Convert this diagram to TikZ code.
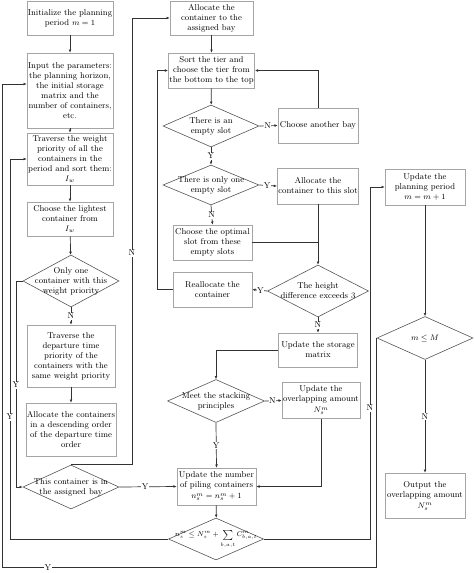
\documentclass[tikz,border=0pt]{standalone}
\usetikzlibrary{shapes.geometric,arrows.meta}
\definecolor{boxgray}{RGB}{165,165,165}
\definecolor{diagray}{RGB}{85,85,85}
\definecolor{linegray}{RGB}{50,50,50}
\newcommand\myfs{\fontsize{8.5}{10}\selectfont}
\newcommand\mysmfs{\fontsize{7.5}{9}\selectfont}
\tikzset{
 box/.style={draw=boxgray, line width=0.6pt, fill=white, inner sep=1pt, align=center, font=\myfs},
 dia/.style={draw=diagray, line width=0.6pt, diamond, inner sep=0pt},
 dtext/.style={align=center, font=\myfs, inner sep=0pt},
 conn/.style={draw=linegray, line width=0.7pt},
 arr/.style={conn, -{Latex[length=3.2pt,width=2.8pt]}},
 lab/.style={fill=white, inner sep=0.6pt, font=\myfs},
}
\begin{document}
\begin{tikzpicture}[x=1pt,y=-1pt]
\useasboundingbox (0,0) rectangle (474,573);
% left column
\node[box, minimum width=86pt, minimum height=34pt] (b1) at (70,18) {Initialize the planning\\period $m=1$};
\node[box, minimum width=86pt, minimum height=75pt] (b2) at (70,90.5) {Input the parameters:\\the planning horizon,\\the initial storage\\matrix and the\\number of containers,\\etc.};
\node[box, minimum width=86pt, minimum height=52pt] (b3) at (70,159) {Traverse the weight\\priority of all the\\containers in the\\period and sort them:\\$I_w$};
\node[box, minimum width=86pt, minimum height=34pt] (b4) at (70,219) {Choose the lightest\\container from\\$I_w$};
\node[dia, minimum width=96pt, minimum height=52pt, label={[dtext]center:{Only one\\container with this\\weight priority}}] (d1) at (71,281) {};
\node[box, minimum width=88pt, minimum height=62pt] (b5) at (71,356) {Traverse the\\departure time\\priority of the\\containers with the\\same weight priority};
\node[box, minimum width=88pt, minimum height=53pt] (b6) at (71,429.5) {Allocate the containers\\in a descending order\\of the departure time\\order};
\node[dia, minimum width=96pt, minimum height=44pt, label={[dtext]center:{This container is in\\the assigned bay}}] (d2) at (71,487) {};
% middle column
\node[box, minimum width=83pt, minimum height=34pt] (c1) at (211.5,18) {Allocate the\\container to the\\assigned bay};
\node[box, minimum width=83pt, minimum height=35pt] (c2) at (211.5,70.5) {Sort the tier and\\choose the tier from\\the bottom to the top};
\node[dia, minimum width=96pt, minimum height=42pt, label={[dtext]center:{There is an\\empty slot}}] (d5) at (211,126) {};
\node[box, minimum width=80pt, minimum height=35pt] (another) at (318,125.5) {Choose another bay};
\node[dia, minimum width=96pt, minimum height=40pt, label={[dtext]center:{There is only one\\empty slot}}] (d6) at (211,185) {};
\node[box, minimum width=80pt, minimum height=36pt] (slot) at (318,186) {Allocate the\\container to this slot};
\node[box, minimum width=79pt, minimum height=35pt] (c3) at (212.5,242.5) {Choose the optimal\\slot from these\\empty slots};
\node[dia, minimum width=101pt, minimum height=52pt, label={[dtext]center:{The height\\difference exceeds 3}}] (d7) at (318,291) {};
\node[box, minimum width=79pt, minimum height=35pt] (realloc) at (212.5,289.5) {Reallocate the\\container};
\node[box, minimum width=79pt, minimum height=34pt] (storage) at (318,350) {Update the storage\\matrix};
\node[dia, minimum width=97pt, minimum height=43pt, label={[dtext]center:{Meet the stacking\\principles}}] (d8) at (216,401) {};
\node[box, minimum width=78pt, minimum height=36pt] (overlap) at (321,400.5) {Update the\\overlapping amount\\[1pt]$N_s^m$};
\node[box, minimum width=79pt, minimum height=37pt] (piling) at (216.5,486.5) {Update the number\\of piling containers\\[1pt]$n_s^m=n_s^m+1$};
\node[dia, minimum width=95pt, minimum height=42pt, label={[dtext, font=\mysmfs]center:{$n_s^m\le N_s^m+\sum\limits_{b,a,t}C_{b,a,t}^m$}}] (d4) at (216,539) {};
% right column
\node[box, minimum width=80pt, minimum height=36pt] (period) at (425,187) {Update the\\planning period\\$m=m+1$};
\node[dia, minimum width=96pt, minimum height=43pt, label={[dtext]center:{$m\le M$}}] (d9) at (425,338) {};
\node[box, minimum width=80pt, minimum height=45pt] (output) at (425,495.5) {Output the\\overlapping amount\\[1pt]$N_s^m$};
% connectors left
\draw[arr] (b1) -- (b2);
\draw[arr] (b2) -- (b3);
\draw[arr] (b3) -- (b4);
\draw[arr] (b4) -- (d1);
\draw[arr] (d1.south) -- node[lab]{N} (b5.north);
\draw[arr] (b5) -- (b6);
\draw[arr] (d1.west) -| (16,487) -- (d2.west);
\node[lab] (ly1) at (16,385) {Y};
\draw[arr] (d2.north) -| (132,18) -- (c1.west);
\node[lab] (ln0) at (132,253) {N};
\draw[arr] (d2.east) -- node[lab, pos=0.45]{Y} (piling.west);
\draw[arr] (d4.west) -| (10,159) -- (b3.west);
\node[lab] (ly2) at (10,417) {Y};
\draw[arr] (d9.west) |- (2,567.5) -- (2,84) -- (b2.west |- 0,84);
\node[lab] (ly3) at (48,567.5) {Y};
% connectors middle
\draw[arr] (c1) -- (c2);
\draw[arr] (c2) -- (d5);
\draw[arr] (d5.east) -- node[lab, pos=0.45]{N} (another.west);
\draw[arr] (another.north) |- (c2.east);
\draw[arr] (d5.south) -- node[lab]{Y} (d6.north);
\draw[arr] (d6.east) -- node[lab, pos=0.45]{Y} (slot.west);
\draw[arr] (d6.south) -- node[lab]{N} (c3.north);
\draw[arr] (slot.south) -- (d7.north);
\draw[conn] (c3.east) -- (c3.east -| d7.north);
\draw[arr] (d7.west) -- node[lab, pos=0.45]{Y} (realloc.east);
\draw[arr] (realloc.west) -- ++(-15,0) |- (c2.west);
\draw[arr] (d7.south) -- node[lab]{N} (storage.north);
\draw[arr] (storage.west) -| (d8.north);
\draw[arr] (d8.east) -- node[lab, pos=0.45]{N} (overlap.west);
\draw[arr] (d8.south) -- node[lab]{Y} (piling.north);
\draw[arr] (overlap.south) |- (piling.east);
\draw[arr] (piling) -- (d4);
\draw[arr] (d4.east) -| (370,187) -- (period.west);
\node[lab] (ln1) at (370,408) {N};
% right
\draw[arr] (period) -- (d9);
\draw[arr] (d9.south) -- node[lab]{N} (output.north);
\end{tikzpicture}
\end{document}
